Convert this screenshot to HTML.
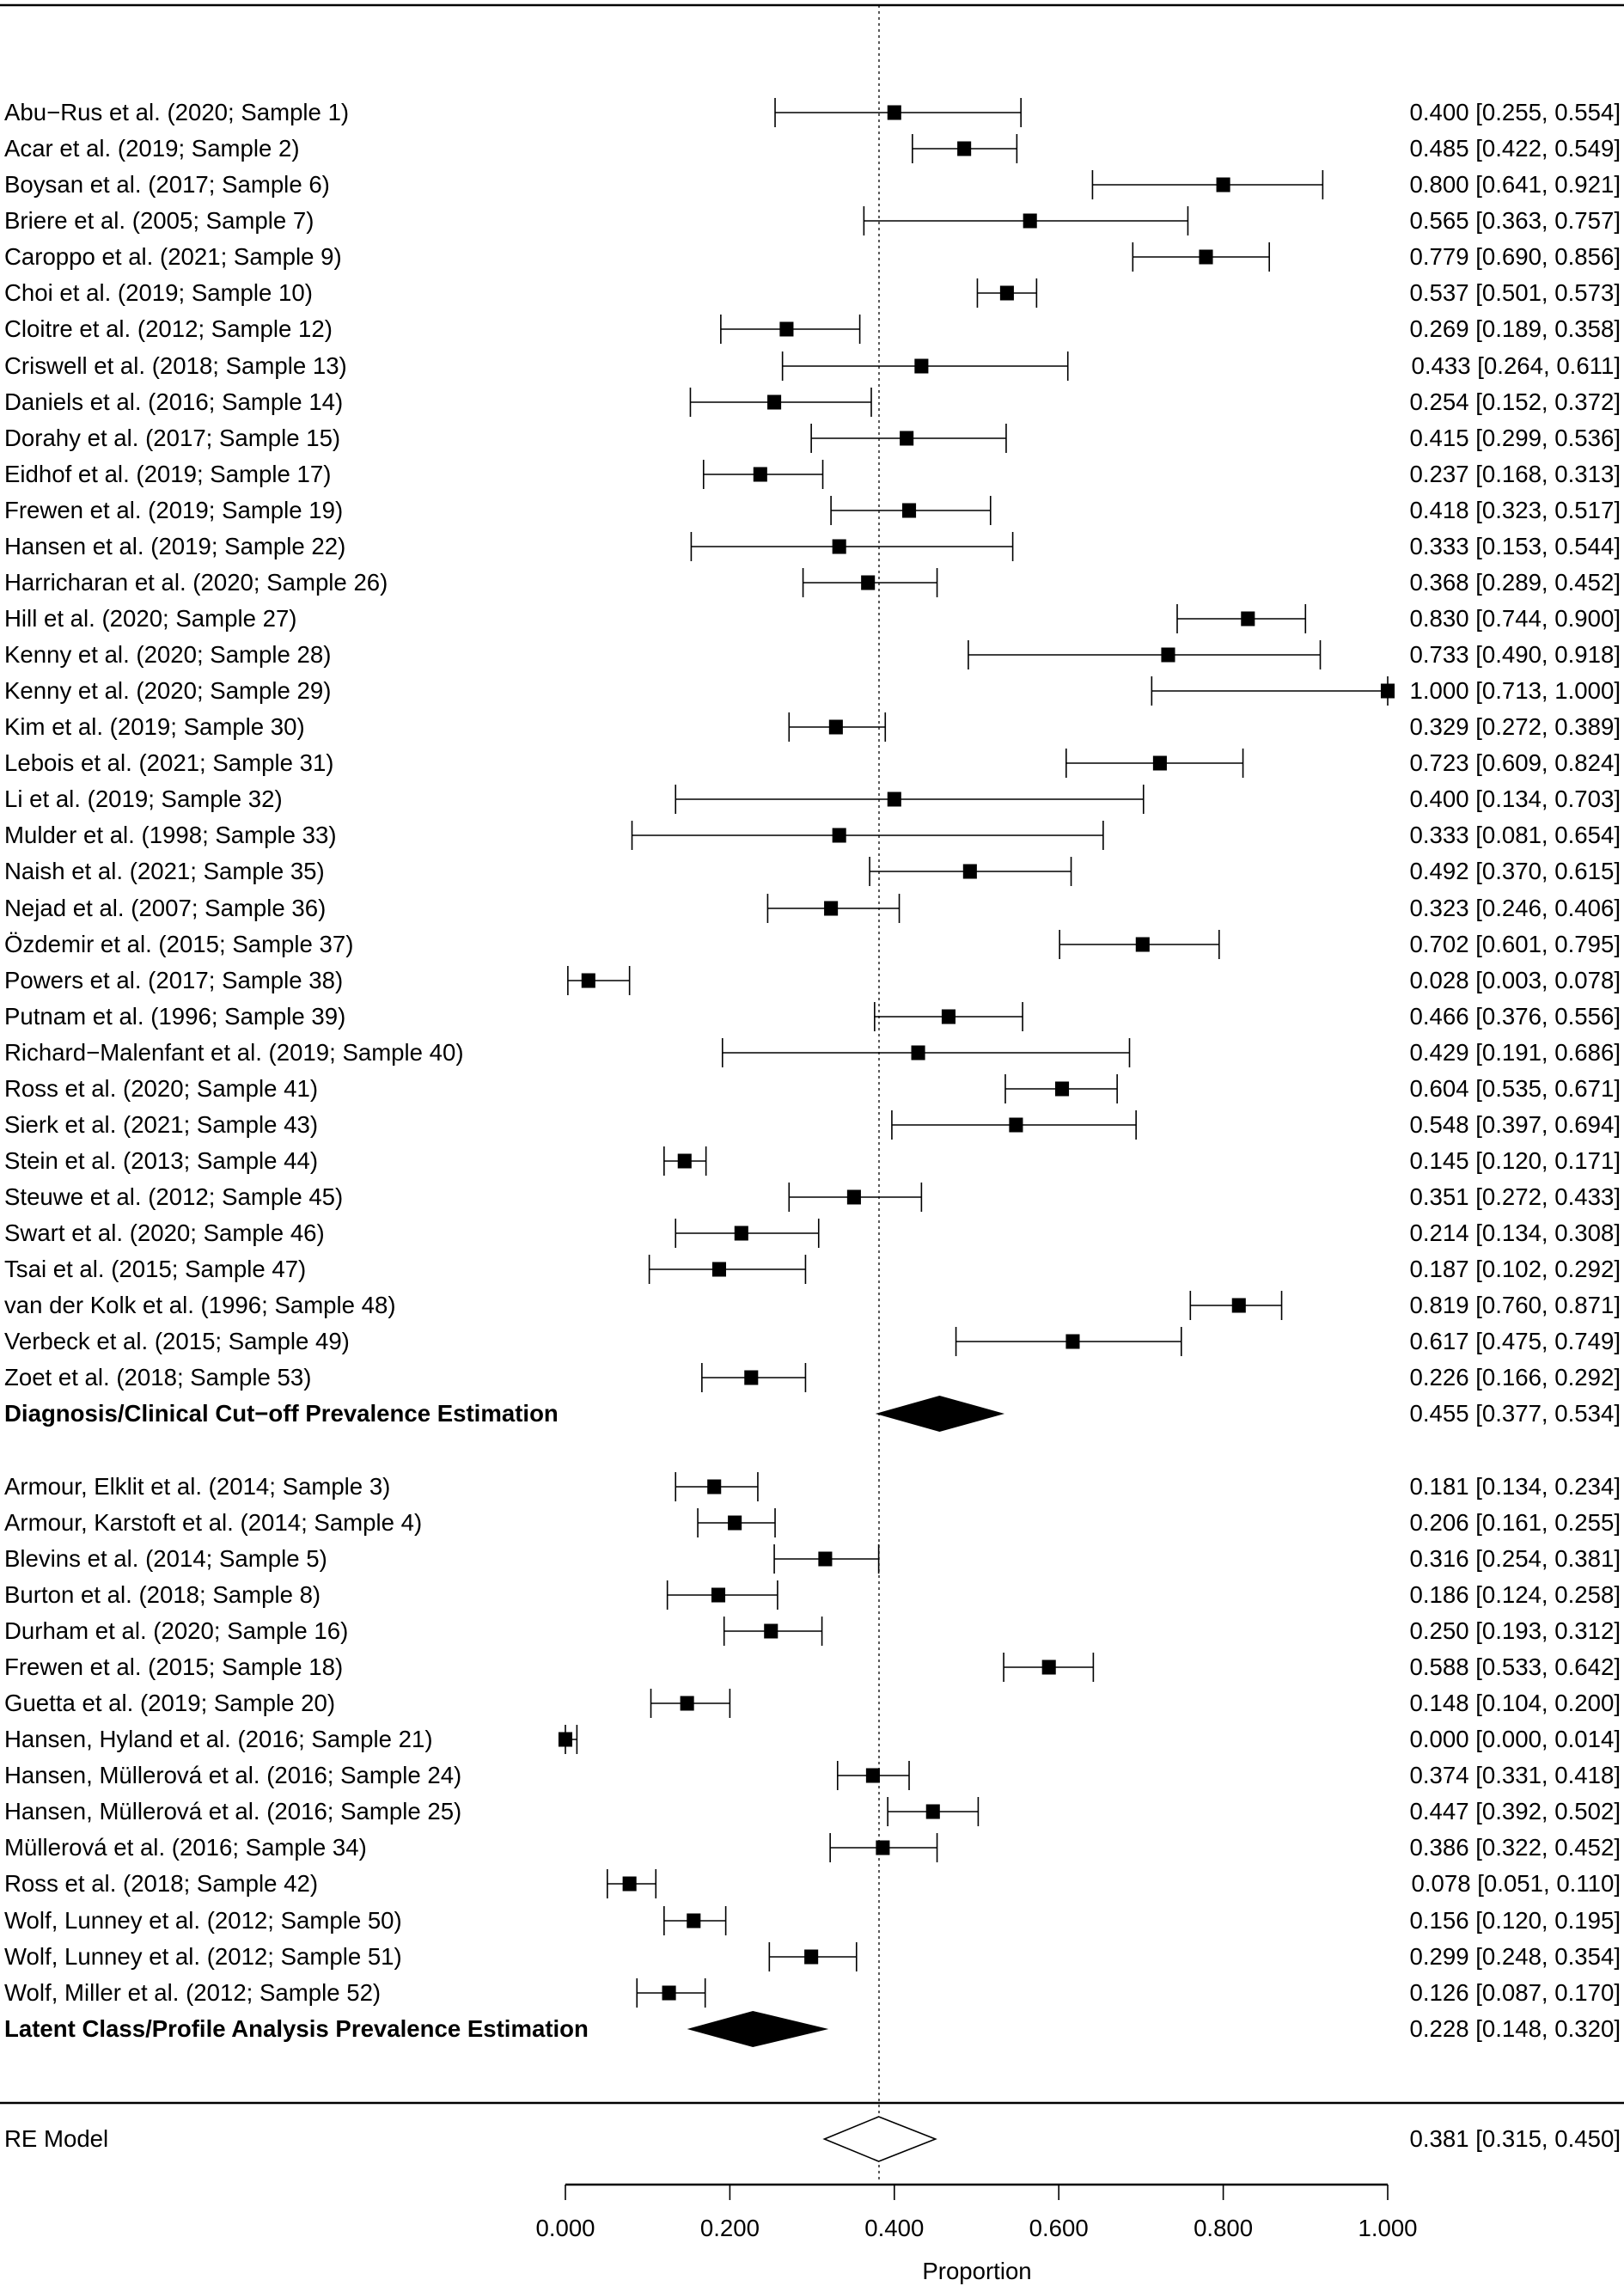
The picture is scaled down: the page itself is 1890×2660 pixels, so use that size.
<!DOCTYPE html>
<html><head><meta charset="utf-8"><style>
html,body{margin:0;padding:0;background:#fff;}
svg{display:block;}
text{font-family:"Liberation Sans",Arial,sans-serif;font-size:27.6px;fill:#000;}
.r{text-anchor:end;}
.b{font-weight:bold;}
.ci path{vector-effect:non-scaling-stroke;stroke:#000;stroke-width:1.6;fill:none;}
.ci path.sq{stroke-width:17;}
.ci polygon{vector-effect:non-scaling-stroke;}
</style></head><body>
<svg width="1890" height="2660" viewBox="0 0 1890 2660" xmlns="http://www.w3.org/2000/svg">
<line x1="0" y1="6" x2="1890" y2="6" stroke="#000" stroke-width="2.5"/>
<line x1="1023" y1="6" x2="1023" y2="2536" stroke="#000" stroke-width="1.3" stroke-dasharray="3,4"/>
<line x1="0" y1="2447" x2="1890" y2="2447" stroke="#000" stroke-width="2.5"/>

<g class="ci">
<g transform="translate(658,131) scale(957,1)"><path d="M.255 0H.554M.255 -17V17M.554 -17V17"/><path class="sq" d="M.3916 0H.4084"/></g>
<g transform="translate(658,173) scale(957,1)"><path d="M.422 0H.549M.422 -17V17M.549 -17V17"/><path class="sq" d="M.4766 0H.4934"/></g>
<g transform="translate(658,215) scale(957,1)"><path d="M.641 0H.921M.641 -17V17M.921 -17V17"/><path class="sq" d="M.7916 0H.8084"/></g>
<g transform="translate(658,257) scale(957,1)"><path d="M.363 0H.757M.363 -17V17M.757 -17V17"/><path class="sq" d="M.5566 0H.5734"/></g>
<g transform="translate(658,299) scale(957,1)"><path d="M.690 0H.856M.690 -17V17M.856 -17V17"/><path class="sq" d="M.7706 0H.7874"/></g>
<g transform="translate(658,341) scale(957,1)"><path d="M.501 0H.573M.501 -17V17M.573 -17V17"/><path class="sq" d="M.5286 0H.5454"/></g>
<g transform="translate(658,383) scale(957,1)"><path d="M.189 0H.358M.189 -17V17M.358 -17V17"/><path class="sq" d="M.2606 0H.2774"/></g>
<g transform="translate(658,426) scale(957,1)"><path d="M.264 0H.611M.264 -17V17M.611 -17V17"/><path class="sq" d="M.4246 0H.4414"/></g>
<g transform="translate(658,468) scale(957,1)"><path d="M.152 0H.372M.152 -17V17M.372 -17V17"/><path class="sq" d="M.2456 0H.2624"/></g>
<g transform="translate(658,510) scale(957,1)"><path d="M.299 0H.536M.299 -17V17M.536 -17V17"/><path class="sq" d="M.4066 0H.4234"/></g>
<g transform="translate(658,552) scale(957,1)"><path d="M.168 0H.313M.168 -17V17M.313 -17V17"/><path class="sq" d="M.2286 0H.2454"/></g>
<g transform="translate(658,594) scale(957,1)"><path d="M.323 0H.517M.323 -17V17M.517 -17V17"/><path class="sq" d="M.4096 0H.4264"/></g>
<g transform="translate(658,636) scale(957,1)"><path d="M.153 0H.544M.153 -17V17M.544 -17V17"/><path class="sq" d="M.3246 0H.3414"/></g>
<g transform="translate(658,678) scale(957,1)"><path d="M.289 0H.452M.289 -17V17M.452 -17V17"/><path class="sq" d="M.3596 0H.3764"/></g>
<g transform="translate(658,720) scale(957,1)"><path d="M.744 0H.900M.744 -17V17M.900 -17V17"/><path class="sq" d="M.8216 0H.8384"/></g>
<g transform="translate(658,762) scale(957,1)"><path d="M.490 0H.918M.490 -17V17M.918 -17V17"/><path class="sq" d="M.7246 0H.7414"/></g>
<g transform="translate(658,804) scale(957,1)"><path d="M.713 0H1M.713 -17V17M1 -17V17"/><path class="sq" d="M.9916 0H1.0084"/></g>
<g transform="translate(658,846) scale(957,1)"><path d="M.272 0H.389M.272 -17V17M.389 -17V17"/><path class="sq" d="M.3206 0H.3374"/></g>
<g transform="translate(658,888) scale(957,1)"><path d="M.609 0H.824M.609 -17V17M.824 -17V17"/><path class="sq" d="M.7146 0H.7314"/></g>
<g transform="translate(658,930) scale(957,1)"><path d="M.134 0H.703M.134 -17V17M.703 -17V17"/><path class="sq" d="M.3916 0H.4084"/></g>
<g transform="translate(658,972) scale(957,1)"><path d="M.081 0H.654M.081 -17V17M.654 -17V17"/><path class="sq" d="M.3246 0H.3414"/></g>
<g transform="translate(658,1014) scale(957,1)"><path d="M.370 0H.615M.370 -17V17M.615 -17V17"/><path class="sq" d="M.4836 0H.5004"/></g>
<g transform="translate(658,1057) scale(957,1)"><path d="M.246 0H.406M.246 -17V17M.406 -17V17"/><path class="sq" d="M.3146 0H.3314"/></g>
<g transform="translate(658,1099) scale(957,1)"><path d="M.601 0H.795M.601 -17V17M.795 -17V17"/><path class="sq" d="M.6936 0H.7104"/></g>
<g transform="translate(658,1141) scale(957,1)"><path d="M.003 0H.078M.003 -17V17M.078 -17V17"/><path class="sq" d="M.0196 0H.0364"/></g>
<g transform="translate(658,1183) scale(957,1)"><path d="M.376 0H.556M.376 -17V17M.556 -17V17"/><path class="sq" d="M.4576 0H.4744"/></g>
<g transform="translate(658,1225) scale(957,1)"><path d="M.191 0H.686M.191 -17V17M.686 -17V17"/><path class="sq" d="M.4206 0H.4374"/></g>
<g transform="translate(658,1267) scale(957,1)"><path d="M.535 0H.671M.535 -17V17M.671 -17V17"/><path class="sq" d="M.5956 0H.6124"/></g>
<g transform="translate(658,1309) scale(957,1)"><path d="M.397 0H.694M.397 -17V17M.694 -17V17"/><path class="sq" d="M.5396 0H.5564"/></g>
<g transform="translate(658,1351) scale(957,1)"><path d="M.120 0H.171M.120 -17V17M.171 -17V17"/><path class="sq" d="M.1366 0H.1534"/></g>
<g transform="translate(658,1393) scale(957,1)"><path d="M.272 0H.433M.272 -17V17M.433 -17V17"/><path class="sq" d="M.3426 0H.3594"/></g>
<g transform="translate(658,1435) scale(957,1)"><path d="M.134 0H.308M.134 -17V17M.308 -17V17"/><path class="sq" d="M.2056 0H.2224"/></g>
<g transform="translate(658,1477) scale(957,1)"><path d="M.102 0H.292M.102 -17V17M.292 -17V17"/><path class="sq" d="M.1786 0H.1954"/></g>
<g transform="translate(658,1519) scale(957,1)"><path d="M.760 0H.871M.760 -17V17M.871 -17V17"/><path class="sq" d="M.8106 0H.8274"/></g>
<g transform="translate(658,1561) scale(957,1)"><path d="M.475 0H.749M.475 -17V17M.749 -17V17"/><path class="sq" d="M.6086 0H.6254"/></g>
<g transform="translate(658,1603) scale(957,1)"><path d="M.166 0H.292M.166 -17V17M.292 -17V17"/><path class="sq" d="M.2176 0H.2344"/></g>
<g transform="translate(658,1645) scale(957,1)"><polygon points=".377,0 .455,-21 .534,0 .455,21" fill="#000"/></g>

<g transform="translate(658,1730) scale(957,1)"><path d="M.134 0H.234M.134 -17V17M.234 -17V17"/><path class="sq" d="M.1726 0H.1894"/></g>
<g transform="translate(658,1772) scale(957,1)"><path d="M.161 0H.255M.161 -17V17M.255 -17V17"/><path class="sq" d="M.1976 0H.2144"/></g>
<g transform="translate(658,1814) scale(957,1)"><path d="M.254 0H.381M.254 -17V17M.381 -17V17"/><path class="sq" d="M.3076 0H.3244"/></g>
<g transform="translate(658,1856) scale(957,1)"><path d="M.124 0H.258M.124 -17V17M.258 -17V17"/><path class="sq" d="M.1776 0H.1944"/></g>
<g transform="translate(658,1898) scale(957,1)"><path d="M.193 0H.312M.193 -17V17M.312 -17V17"/><path class="sq" d="M.2416 0H.2584"/></g>
<g transform="translate(658,1940) scale(957,1)"><path d="M.533 0H.642M.533 -17V17M.642 -17V17"/><path class="sq" d="M.5796 0H.5964"/></g>
<g transform="translate(658,1982) scale(957,1)"><path d="M.104 0H.200M.104 -17V17M.200 -17V17"/><path class="sq" d="M.1396 0H.1564"/></g>
<g transform="translate(658,2024) scale(957,1)"><path d="M0 0H.014M0 -17V17M.014 -17V17"/><path class="sq" d="M-.0084 0H.0084"/></g>
<g transform="translate(658,2066) scale(957,1)"><path d="M.331 0H.418M.331 -17V17M.418 -17V17"/><path class="sq" d="M.3656 0H.3824"/></g>
<g transform="translate(658,2108) scale(957,1)"><path d="M.392 0H.502M.392 -17V17M.502 -17V17"/><path class="sq" d="M.4386 0H.4554"/></g>
<g transform="translate(658,2150) scale(957,1)"><path d="M.322 0H.452M.322 -17V17M.452 -17V17"/><path class="sq" d="M.3776 0H.3944"/></g>
<g transform="translate(658,2192) scale(957,1)"><path d="M.051 0H.110M.051 -17V17M.110 -17V17"/><path class="sq" d="M.0696 0H.0864"/></g>
<g transform="translate(658,2235) scale(957,1)"><path d="M.120 0H.195M.120 -17V17M.195 -17V17"/><path class="sq" d="M.1476 0H.1644"/></g>
<g transform="translate(658,2277) scale(957,1)"><path d="M.248 0H.354M.248 -17V17M.354 -17V17"/><path class="sq" d="M.2906 0H.3074"/></g>
<g transform="translate(658,2319) scale(957,1)"><path d="M.087 0H.170M.087 -17V17M.170 -17V17"/><path class="sq" d="M.1176 0H.1344"/></g>
<g transform="translate(658,2361) scale(957,1)"><polygon points=".148,0 .228,-21 .320,0 .228,21" fill="#000"/></g>
<g transform="translate(658,2489) scale(957,1)"><polygon points=".315,0 .381,-26 .450,0 .381,26" fill="#fff" stroke="#000" stroke-width="1.6"/></g>
</g>

<g>
<text x="5" y="140">Abu−Rus et al. (2020; Sample 1)</text>
<text x="5" y="182">Acar et al. (2019; Sample 2)</text>
<text x="5" y="224">Boysan et al. (2017; Sample 6)</text>
<text x="5" y="266">Briere et al. (2005; Sample 7)</text>
<text x="5" y="308">Caroppo et al. (2021; Sample 9)</text>
<text x="5" y="350">Choi et al. (2019; Sample 10)</text>
<text x="5" y="392">Cloitre et al. (2012; Sample 12)</text>
<text x="5" y="435">Criswell et al. (2018; Sample 13)</text>
<text x="5" y="477">Daniels et al. (2016; Sample 14)</text>
<text x="5" y="519">Dorahy et al. (2017; Sample 15)</text>
<text x="5" y="561">Eidhof et al. (2019; Sample 17)</text>
<text x="5" y="603">Frewen et al. (2019; Sample 19)</text>
<text x="5" y="645">Hansen et al. (2019; Sample 22)</text>
<text x="5" y="687">Harricharan et al. (2020; Sample 26)</text>
<text x="5" y="729">Hill et al. (2020; Sample 27)</text>
<text x="5" y="771">Kenny et al. (2020; Sample 28)</text>
<text x="5" y="813">Kenny et al. (2020; Sample 29)</text>
<text x="5" y="855">Kim et al. (2019; Sample 30)</text>
<text x="5" y="897">Lebois et al. (2021; Sample 31)</text>
<text x="5" y="939">Li et al. (2019; Sample 32)</text>
<text x="5" y="981">Mulder et al. (1998; Sample 33)</text>
<text x="5" y="1023">Naish et al. (2021; Sample 35)</text>
<text x="5" y="1066">Nejad et al. (2007; Sample 36)</text>
<text x="5" y="1108">Özdemir et al. (2015; Sample 37)</text>
<text x="5" y="1150">Powers et al. (2017; Sample 38)</text>
<text x="5" y="1192">Putnam et al. (1996; Sample 39)</text>
<text x="5" y="1234">Richard−Malenfant et al. (2019; Sample 40)</text>
<text x="5" y="1276">Ross et al. (2020; Sample 41)</text>
<text x="5" y="1318">Sierk et al. (2021; Sample 43)</text>
<text x="5" y="1360">Stein et al. (2013; Sample 44)</text>
<text x="5" y="1402">Steuwe et al. (2012; Sample 45)</text>
<text x="5" y="1444">Swart et al. (2020; Sample 46)</text>
<text x="5" y="1486">Tsai et al. (2015; Sample 47)</text>
<text x="5" y="1528">van der Kolk et al. (1996; Sample 48)</text>
<text x="5" y="1570">Verbeck et al. (2015; Sample 49)</text>
<text x="5" y="1612">Zoet et al. (2018; Sample 53)</text>
<text x="5" y="1654" class="b">Diagnosis/Clinical Cut−off Prevalence Estimation</text>
<text x="5" y="1739">Armour, Elklit et al. (2014; Sample 3)</text>
<text x="5" y="1781">Armour, Karstoft et al. (2014; Sample 4)</text>
<text x="5" y="1823">Blevins et al. (2014; Sample 5)</text>
<text x="5" y="1865">Burton et al. (2018; Sample 8)</text>
<text x="5" y="1907">Durham et al. (2020; Sample 16)</text>
<text x="5" y="1949">Frewen et al. (2015; Sample 18)</text>
<text x="5" y="1991">Guetta et al. (2019; Sample 20)</text>
<text x="5" y="2033">Hansen, Hyland et al. (2016; Sample 21)</text>
<text x="5" y="2075">Hansen, Müllerová et al. (2016; Sample 24)</text>
<text x="5" y="2117">Hansen, Müllerová et al. (2016; Sample 25)</text>
<text x="5" y="2159">Müllerová et al. (2016; Sample 34)</text>
<text x="5" y="2201">Ross et al. (2018; Sample 42)</text>
<text x="5" y="2244">Wolf, Lunney et al. (2012; Sample 50)</text>
<text x="5" y="2286">Wolf, Lunney et al. (2012; Sample 51)</text>
<text x="5" y="2328">Wolf, Miller et al. (2012; Sample 52)</text>
<text x="5" y="2370" class="b">Latent Class/Profile Analysis Prevalence Estimation</text>
<text x="5" y="2498">RE Model</text>
</g>

<g class="r">
<text class="r" x="1886" y="140">0.400 [0.255, 0.554]</text>
<text class="r" x="1886" y="182">0.485 [0.422, 0.549]</text>
<text class="r" x="1886" y="224">0.800 [0.641, 0.921]</text>
<text class="r" x="1886" y="266">0.565 [0.363, 0.757]</text>
<text class="r" x="1886" y="308">0.779 [0.690, 0.856]</text>
<text class="r" x="1886" y="350">0.537 [0.501, 0.573]</text>
<text class="r" x="1886" y="392">0.269 [0.189, 0.358]</text>
<text class="r" x="1886" y="435">0.433 [0.264, 0.611]</text>
<text class="r" x="1886" y="477">0.254 [0.152, 0.372]</text>
<text class="r" x="1886" y="519">0.415 [0.299, 0.536]</text>
<text class="r" x="1886" y="561">0.237 [0.168, 0.313]</text>
<text class="r" x="1886" y="603">0.418 [0.323, 0.517]</text>
<text class="r" x="1886" y="645">0.333 [0.153, 0.544]</text>
<text class="r" x="1886" y="687">0.368 [0.289, 0.452]</text>
<text class="r" x="1886" y="729">0.830 [0.744, 0.900]</text>
<text class="r" x="1886" y="771">0.733 [0.490, 0.918]</text>
<text class="r" x="1886" y="813">1.000 [0.713, 1.000]</text>
<text class="r" x="1886" y="855">0.329 [0.272, 0.389]</text>
<text class="r" x="1886" y="897">0.723 [0.609, 0.824]</text>
<text class="r" x="1886" y="939">0.400 [0.134, 0.703]</text>
<text class="r" x="1886" y="981">0.333 [0.081, 0.654]</text>
<text class="r" x="1886" y="1023">0.492 [0.370, 0.615]</text>
<text class="r" x="1886" y="1066">0.323 [0.246, 0.406]</text>
<text class="r" x="1886" y="1108">0.702 [0.601, 0.795]</text>
<text class="r" x="1886" y="1150">0.028 [0.003, 0.078]</text>
<text class="r" x="1886" y="1192">0.466 [0.376, 0.556]</text>
<text class="r" x="1886" y="1234">0.429 [0.191, 0.686]</text>
<text class="r" x="1886" y="1276">0.604 [0.535, 0.671]</text>
<text class="r" x="1886" y="1318">0.548 [0.397, 0.694]</text>
<text class="r" x="1886" y="1360">0.145 [0.120, 0.171]</text>
<text class="r" x="1886" y="1402">0.351 [0.272, 0.433]</text>
<text class="r" x="1886" y="1444">0.214 [0.134, 0.308]</text>
<text class="r" x="1886" y="1486">0.187 [0.102, 0.292]</text>
<text class="r" x="1886" y="1528">0.819 [0.760, 0.871]</text>
<text class="r" x="1886" y="1570">0.617 [0.475, 0.749]</text>
<text class="r" x="1886" y="1612">0.226 [0.166, 0.292]</text>
<text class="r" x="1886" y="1654">0.455 [0.377, 0.534]</text>
<text class="r" x="1886" y="1739">0.181 [0.134, 0.234]</text>
<text class="r" x="1886" y="1781">0.206 [0.161, 0.255]</text>
<text class="r" x="1886" y="1823">0.316 [0.254, 0.381]</text>
<text class="r" x="1886" y="1865">0.186 [0.124, 0.258]</text>
<text class="r" x="1886" y="1907">0.250 [0.193, 0.312]</text>
<text class="r" x="1886" y="1949">0.588 [0.533, 0.642]</text>
<text class="r" x="1886" y="1991">0.148 [0.104, 0.200]</text>
<text class="r" x="1886" y="2033">0.000 [0.000, 0.014]</text>
<text class="r" x="1886" y="2075">0.374 [0.331, 0.418]</text>
<text class="r" x="1886" y="2117">0.447 [0.392, 0.502]</text>
<text class="r" x="1886" y="2159">0.386 [0.322, 0.452]</text>
<text class="r" x="1886" y="2201">0.078 [0.051, 0.110]</text>
<text class="r" x="1886" y="2244">0.156 [0.120, 0.195]</text>
<text class="r" x="1886" y="2286">0.299 [0.248, 0.354]</text>
<text class="r" x="1886" y="2328">0.126 [0.087, 0.170]</text>
<text class="r" x="1886" y="2370">0.228 [0.148, 0.320]</text>
<text class="r" x="1886" y="2498">0.381 [0.315, 0.450]</text>
</g>

<g stroke="#000" stroke-width="1.6">
<line x1="658" y1="2542" x2="1615" y2="2542" stroke-width="2.5"/>
<line x1="658" y1="2542" x2="658" y2="2560"/>
<line x1="849.4" y1="2542" x2="849.4" y2="2560"/>
<line x1="1040.8" y1="2542" x2="1040.8" y2="2560"/>
<line x1="1232.2" y1="2542" x2="1232.2" y2="2560"/>
<line x1="1423.6" y1="2542" x2="1423.6" y2="2560"/>
<line x1="1615" y1="2542" x2="1615" y2="2560"/>
</g>
<g text-anchor="middle">
<text x="658" y="2602" text-anchor="middle">0.000</text>
<text x="849.4" y="2602" text-anchor="middle">0.200</text>
<text x="1040.8" y="2602" text-anchor="middle">0.400</text>
<text x="1232.2" y="2602" text-anchor="middle">0.600</text>
<text x="1423.6" y="2602" text-anchor="middle">0.800</text>
<text x="1615" y="2602" text-anchor="middle">1.000</text>
<text x="1137" y="2652" text-anchor="middle">Proportion</text>
</g>
</svg>
</body></html>
